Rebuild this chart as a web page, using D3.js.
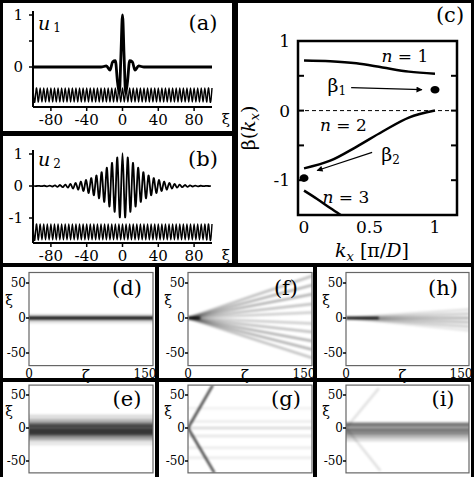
<!DOCTYPE html>
<html><head><meta charset="utf-8">
<script src="https://cdn.jsdelivr.net/npm/d3@7"></script>
<style>body{margin:0;background:#000}svg{display:block}svg text{font-family:"DejaVu Serif","Liberation Serif",serif}</style>
</head><body><svg id="fig" width="474" height="477"></svg>
<script>
// (a) u1 profile samples
const u1Xi = [-100, -24, -18, -14, -11, -8, -5.5, -3.5, -1.8, 0, 1.8, 3.5, 5.5, 8, 11, 14, 18, 24, 100];
const u1Val = [0, 0, 0.02, -0.06, 0.1, 0.12, -0.3, -0.5, 0.2, 1.0, 0.2, -0.5, -0.3, 0.12, 0.1, -0.06, 0.02, 0, 0];
// (b) u2 envelope amplitude per lattice site (sign alternates)
const u2Amp = [1, 0.95, 0.86, 0.78, 0.7, 0.62, 0.55, 0.48, 0.42, 0.37, 0.32, 0.28, 0.24, 0.21, 0.18, 0.15, 0.13, 0.11, 0.09, 0.075, 0.06, 0.05, 0.04, 0.035, 0.03, 0.025, 0.02, 0.015, 0.012, 0.01, 0.008, 0.006, 0.004, 0, 0];
const u2Spacing = 2.9;
const sitePeriod = 4;
const xiTicks = [-80, -40, 0, 40, 80];
// (c) bands
const kx = [0, 0.2, 0.4, 0.6, 0.8, 1];
const band1 = [0.72, 0.71, 0.68, 0.62, 0.56, 0.53];
const band2 = [-0.83, -0.72, -0.52, -0.3, -0.1, 0];
const kx3 = [0, 0.1, 0.2, 0.28];
const band3 = [-1.15, -1.27, -1.4, -1.5];
const betaPoints = [[1, 0.3], [0, -0.97]];
// heatmaps: horizontal bands [xi, opacity] and rays [z0, xi0, z1, xi1, opacity]
const bandsD = [[0, 0.95], [3, 0.2], [-3, 0.2], [-6, 0.08]];
const bandsE = [[18, 0.15], [12, 0.3], [7, 0.5], [3, 0.75], [0, 0.4], [-3, 0.8], [-7, 0.75], [-10, 0.6], [-14, 0.4], [-18, 0.25], [-24, 0.1]];
const raysF = [[0,0,15,0,0.9],[0,0,150,60,0.25],[0,0,150,47,0.3],[0,0,150,34,0.3],[0,0,150,20,0.25],[0,0,150,8,0.2],[0,0,150,-8,0.2],[0,0,150,-20,0.25],[0,0,150,-33,0.3],[0,0,150,-45,0.3],[0,0,150,-57,0.25]];
const raysG = [[0,0,30,65,0.7],[0,0,32,-68,0.7],[0,0,150,0,0.15],[0,10,150,10,0.08],[0,-12,150,-12,0.1],[0,-30,150,-30,0.08],[0,30,150,30,0.06],[0,-45,150,-45,0.08]];
const raysH = [[0,0,40,0,0.9],[0,0,150,0,0.3],[0,0,150,6,0.2],[0,0,150,-6,0.25],[0,0,150,-12,0.2],[0,0,150,12,0.12],[0,0,150,-18,0.1]];
const bandsI = [[6, 0.55], [2, 0.4], [-3, 0.6], [-8, 0.5], [-13, 0.3], [-18, 0.15]];
const raysI = [[0,0,40,60,0.12],[0,0,42,-65,0.12]];

const svg = d3.select('#fig');
const defs = svg.append('defs');
defs.append('filter').attr('id', 'blur').attr('x', '-20%').attr('y', '-20%').attr('width', '140%').attr('height', '140%')
  .append('feGaussianBlur').attr('stdDeviation', 1.3);
defs.append('marker').attr('id', 'ar').attr('viewBox', '0 0 10 10').attr('refX', 9).attr('refY', 5).attr('markerWidth', 7).attr('markerHeight', 5).attr('orient', 'auto')
  .append('path').attr('d', 'M0,0L10,5L0,10z').attr('fill', '#000');

function cell(x0, y0, x1, y1) {
  svg.append('rect').attr('x', x0).attr('y', y0).attr('width', x1 - x0).attr('height', y1 - y0).attr('fill', '#fff');
}
function txt(g, x, y, s, size, opts = {}) {
  const t = g.append('text').attr('x', x).attr('y', y).attr('font-size', size).attr('text-anchor', opts.anchor || 'middle').attr('fill', '#000');
  if (opts.italic) t.attr('font-style', 'italic');
  if (opts.rot) t.attr('transform', `rotate(${opts.rot},${x},${y})`);
  t.text(s);
  return t;
}

cell(3, 3, 232, 131); cell(3, 136, 232, 263);
cell(238, 3, 471, 263);
cell(3, 267, 155, 378); cell(159, 267, 313, 378); cell(317, 267, 471, 378);
cell(3, 382, 155, 477); cell(159, 382, 313, 477); cell(317, 382, 471, 477);

// ----- panels a, b
function profilePanel(top, yTop, y0, yBot, latTop, latBot, label, name, sub, drawCurve, ticksY) {
  const x = d3.scaleLinear().domain([-100, 100]).range([33, 212]);
  const y = d3.scaleLinear().domain([0, 1]).range([y0, yTop]);
  const g = svg.append('g');
  g.append('line').attr('x1', 33).attr('x2', 33).attr('y1', yTop - 4).attr('y2', yBot).attr('stroke', '#000').attr('stroke-width', 2);
  g.append('line').attr('x1', 33).attr('x2', 212).attr('y1', yBot).attr('y2', yBot).attr('stroke', '#000').attr('stroke-width', 2);
  xiTicks.forEach(t => {
    g.append('line').attr('x1', x(t)).attr('x2', x(t)).attr('y1', yBot).attr('y2', yBot + 4).attr('stroke', '#000').attr('stroke-width', 1.5);
    txt(g, x(t), yBot + 18, t, 15);
  });
  txt(g, 226, yBot + 17, 'ξ', 15);
  ticksY.forEach(t => {
    g.append('line').attr('x1', 29).attr('x2', 33).attr('y1', y(t)).attr('y2', y(t)).attr('stroke', '#000').attr('stroke-width', 1.5);
    if (t === Math.round(t)) txt(g, 23, y(t) + 5, t, 15, { anchor: 'end' });
  });
  // lattice
  const lat = [];
  for (let xi = -100; xi <= 100; xi += sitePeriod / 2) lat.push([xi, (Math.round(xi / (sitePeriod / 2)) % 2 === 0) ? latTop : latBot]);
  g.append('path').attr('d', d3.line().x(d => x(d[0])).y(d => d[1]).curve(d3.curveNatural)(lat)).attr('fill', 'none').attr('stroke', '#000').attr('stroke-width', 1.4);
  drawCurve(g, x, y);
  const nm = txt(g, 38, top + 30, '', 19, { anchor: 'start' });
  nm.append('tspan').attr('font-style', 'italic').text(name);
  nm.append('tspan').attr('font-size', 12).attr('dx', 3).attr('dy', 2).text(sub);
  txt(g, 203, top + 30, label, 21);
}
profilePanel(0, 15, 67, 107, 88, 102, '(a)', 'u', '1', (g, x, y) => {
  const pts = u1Xi.map((v, i) => [v, u1Val[i]]);
  g.append('path').attr('d', d3.line().x(d => x(d[0])).y(d => y(d[1])).curve(d3.curveMonotoneX)(pts)).attr('fill', 'none').attr('stroke', '#000').attr('stroke-width', 2.8);
}, [1, 0.5, 0]);
profilePanel(136, 154, 186, 243, 224, 240, '(b)', 'u', '2', (g, x, y) => {
  const pts = [];
  u2Amp.forEach((a, j) => {
    pts.push([j * u2Spacing, (j % 2 ? -a : a)]);
    if (j > 0) pts.unshift([-j * u2Spacing, (j % 2 ? -a : a)]);
  });
  g.append('path').attr('d', d3.line().x(d => x(d[0])).y(d => y(d[1] * 1.03)).curve(d3.curveNatural)(pts)).attr('fill', 'none').attr('stroke', '#000').attr('stroke-width', 1.8);
}, [1, 0, -1]);

// ----- panel c
{
  const g = svg.append('g');
  const x = d3.scaleLinear().domain([-0.046, 1.168]).range([298, 457]);
  const y = d3.scaleLinear().domain([-1.5, 1]).range([215, 41]);
  g.append('rect').attr('x', 298).attr('y', 41).attr('width', 159).attr('height', 174).attr('fill', 'none').attr('stroke', '#000').attr('stroke-width', 2.5);
  [1, 0.5, 0, -0.5, -1].forEach(t => {
    g.append('line').attr('x1', 298).attr('x2', 304).attr('y1', y(t)).attr('y2', y(t)).attr('stroke', '#000').attr('stroke-width', 2);
    g.append('line').attr('x1', 451).attr('x2', 457).attr('y1', y(t)).attr('y2', y(t)).attr('stroke', '#000').attr('stroke-width', 2);
    if (t === Math.round(t)) txt(g, 290, y(t) + 6, t, 17, { anchor: 'end' });
  });
  [0, 0.5, 1].forEach(t => txt(g, x(t), 233, t, 17));
  g.append('line').attr('x1', 298).attr('x2', 457).attr('y1', y(0)).attr('y2', y(0)).attr('stroke', '#000').attr('stroke-dasharray', '4,3');
  const line = d3.line().x(d => x(d[0])).y(d => y(d[1])).curve(d3.curveMonotoneX);
  [[kx, band1], [kx, band2], [kx3, band3]].forEach(([k, b]) =>
    g.append('path').attr('d', line(k.map((v, i) => [v, b[i]]))).attr('fill', 'none').attr('stroke', '#000').attr('stroke-width', 2.5));
  betaPoints.forEach(p => g.append('ellipse').attr('cx', x(p[0])).attr('cy', y(p[1])).attr('rx', 4.5).attr('ry', 3.8).attr('fill', '#000'));
  g.append('line').attr('x1', x(0.36)).attr('y1', y(0.33)).attr('x2', x(0.9)).attr('y2', y(0.3)).attr('stroke', '#000').attr('stroke-width', 1.2).attr('marker-end', 'url(#ar)');
  g.append('line').attr('x1', x(0.52)).attr('y1', y(-0.6)).attr('x2', x(0.1)).attr('y2', y(-0.86)).attr('stroke', '#000').attr('stroke-width', 1.2).attr('marker-end', 'url(#ar)');
  const bl = (kk, bb, s) => { const t = txt(g, x(kk), y(bb), 'β', 19); t.append('tspan').attr('font-size', 12).attr('dy', 3).text(s); };
  bl(0.25, 0.27, '1'); bl(0.66, -0.73, '2');
  const nl = (kk, bb, n) => { const t = txt(g, x(kk), y(bb), '', 17); t.append('tspan').attr('font-style', 'italic').text('n'); t.append('tspan').text(' = ' + n); };
  nl(0.77, 0.7, 1); nl(0.3, -0.29, 2); nl(0.32, -1.33, 3);
  txt(g, 450, 22, '(c)', 21);
  const yl = txt(g, 255, 128, '', 19, { rot: -90 });
  yl.append('tspan').text('β(');
  yl.append('tspan').attr('font-style', 'italic').text('k');
  yl.append('tspan').attr('font-size', 13).attr('font-style', 'italic').attr('dy', 4).text('x');
  yl.append('tspan').attr('dy', -4).text(')');
  const xl = txt(g, 372, 257, '', 19);
  xl.append('tspan').attr('font-style', 'italic').text('k');
  xl.append('tspan').attr('font-size', 13).attr('font-style', 'italic').attr('dy', 4).text('x');
  xl.append('tspan').attr('dy', -4).text(' [π/');
  xl.append('tspan').attr('font-style', 'italic').text('D');
  xl.append('tspan').text(']');
}

// ----- heatmaps
function heat(x0, x1, yA, yB, label, bands, rays, bottomAxis) {
  const g = svg.append('g');
  const x = d3.scaleLinear().domain([0, 150]).range([x0, x1]);
  const y = d3.scaleLinear().domain([50, 0]).range([yA, yB]);
  const top = y(65), bot = y(-68);
  const clip = 'c' + label.replace(/\W/g, '');
  defs.append('clipPath').attr('id', clip).append('rect').attr('x', x0).attr('y', top).attr('width', x1 - x0).attr('height', bot - top);
  const inner = g.append('g').attr('clip-path', `url(#${clip})`).append('g').attr('filter', 'url(#blur)');
  bands.forEach(b => inner.append('rect').attr('x', x0 - 5).attr('width', x1 - x0 + 10).attr('y', y(b[0]) - 1.5).attr('height', 3).attr('fill', '#000').attr('fill-opacity', b[1]));
  rays.forEach(r => inner.append('line').attr('x1', x(r[0])).attr('y1', y(r[1])).attr('x2', x(r[2])).attr('y2', y(r[3])).attr('stroke', '#000').attr('stroke-width', 2.5).attr('stroke-opacity', r[4]));
  g.append('rect').attr('x', x0).attr('y', top).attr('width', x1 - x0).attr('height', bot - top).attr('fill', 'none').attr('stroke', '#666').attr('stroke-width', 1.2);
  [50, 0, -50].forEach(t => {
    g.append('line').attr('x1', x0 - 3).attr('x2', x0).attr('y1', y(t)).attr('y2', y(t)).attr('stroke', '#000').attr('stroke-width', 1.5);
    txt(g, x0 - 3, y(t) + 4, t, 12, { anchor: 'end' });
  });
  txt(g, x0 - 20, y(18), 'ξ', 14);
  if (bottomAxis) {
    txt(g, x0, bot + 12, '0', 12); txt(g, x1 - 8, bot + 12, '150', 12); txt(g, (x0 + x1) / 2 - 5, bot + 14, 'ζ', 15);
  }
  txt(g, x1 - 26, y(33), label, 21);
}
heat(29, 153, 283, 318, '(d)', bandsD, [], true);
heat(188, 312, 283, 318, '(f)', [], raysF, true);
heat(346, 469, 283, 318, '(h)', [], raysH, true);
heat(29, 153, 395, 428, '(e)', bandsE, [], false);
heat(188, 312, 395, 428, '(g)', [], raysG, false);
heat(346, 469, 395, 428, '(i)', bandsI, raysI, false);
</script></body></html>
